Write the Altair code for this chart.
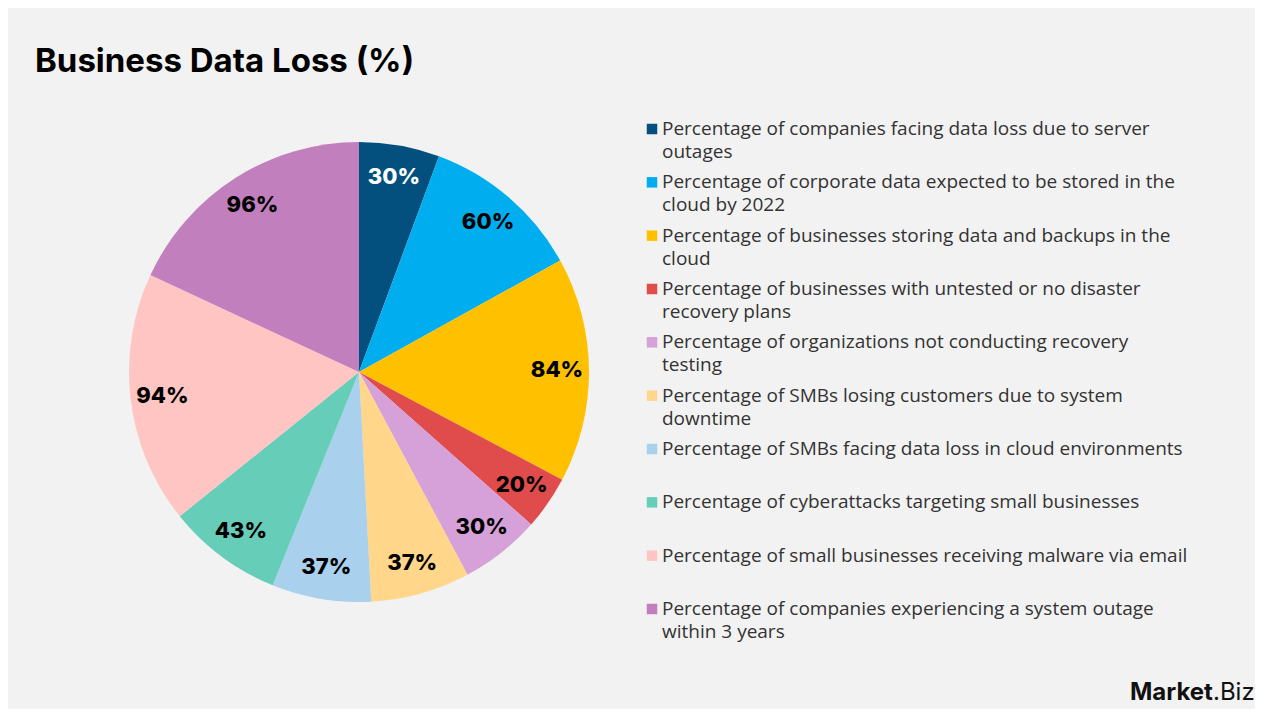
import altair as alt
import pandas as pd

categories = [
    "Percentage of companies facing data loss due to server\noutages",
    "Percentage of corporate data expected to be stored in the\ncloud by 2022",
    "Percentage of businesses storing data and backups in the\ncloud",
    "Percentage of businesses with untested or no disaster\nrecovery plans",
    "Percentage of organizations not conducting recovery\ntesting",
    "Percentage of SMBs losing customers due to system\ndowntime",
    "Percentage of SMBs facing data loss in cloud environments",
    "Percentage of cyberattacks targeting small businesses",
    "Percentage of small businesses receiving malware via email",
    "Percentage of companies experiencing a system outage\nwithin 3 years",
]
values = [30, 60, 84, 20, 30, 37, 37, 43, 94, 96]
colors = [
    "#03507F", "#00AEEF", "#FFC000", "#E04B4B", "#D6A0D8",
    "#FFD68A", "#A9D0EC", "#66CDB9", "#FFC5C2", "#C27FBE",
]
label_colors = ["white"] + ["black"] * 9

df = pd.DataFrame(
    {
        "category": categories,
        "value": values,
        "idx": range(len(values)),
        "label": [f"{v}%" for v in values],
        "label_color": label_colors,
    }
)

color_scale = alt.Scale(domain=categories, range=colors)
cx, cy = 324, 283

base = alt.Chart(df).encode(
    theta=alt.Theta("value:Q", stack=True),
    order=alt.Order("idx:Q"),
)

pie = base.mark_arc(outerRadius=230, x=cx, y=cy).encode(
    color=alt.Color("category:N", scale=color_scale, legend=None),
)
pie_labels = base.mark_text(
    radius=198, x=cx, y=cy, font="Inter", fontSize=22, fontWeight=800
).encode(
    text="label:N",
    color=alt.Color("label_color:N", scale=None),
)
pie_panel = (pie + pie_labels).properties(width=600, height=620)

rows = alt.Y(
    "category:N",
    sort=categories,
    scale=alt.Scale(type="point", range=[40, 520], padding=0),
    axis=None,
)
swatches = (
    alt.Chart(df)
    .mark_square(size=110, opacity=1)
    .encode(
        x=alt.value(17),
        y=rows,
        color=alt.Color("category:N", scale=color_scale, legend=None),
    )
)
legend_text = (
    alt.Chart(df)
    .mark_text(
        align="left",
        baseline="alphabetic",
        dy=6,
        lineBreak="\n",
        lineHeight=23,
        font="Open Sans",
        fontSize=19,
        color="#333333",
    )
    .encode(x=alt.value(27), y=rows, text="category:N")
)

logo_brand = pd.DataFrame({"part": ["Market"]})
logo_suffix = pd.DataFrame({"part": [".Biz"]})
logo_a = (
    alt.Chart(logo_brand)
    .mark_text(align="left", baseline="alphabetic", font="Inter", fontSize=24,
               fontWeight="bold", color="#111111")
    .encode(text="part:N", x=alt.value(495), y=alt.value(611))
)
logo_b = (
    alt.Chart(logo_suffix)
    .mark_text(align="left", baseline="alphabetic", font="Inter", fontSize=24,
               color="#111111")
    .encode(text="part:N", x=alt.value(578), y=alt.value(611))
)

legend_panel = (swatches + legend_text + logo_a + logo_b).properties(width=610, height=620)

chart = (
    alt.hconcat(pie_panel, legend_panel, spacing=0)
    .properties(
        title=alt.Title(
            "Business Data Loss (%)",
            anchor="start",
            font="Inter",
            fontSize=33,
            fontWeight="bold",
            color="#000000",
            offset=10,
        ),
        padding={"left": 27, "top": 38, "right": 0, "bottom": 0},
        background="#F2F2F2",
    )
    .configure_view(stroke=None)
)

chart.save("out.html", embed_options={"renderer": "svg", "actions": False})
